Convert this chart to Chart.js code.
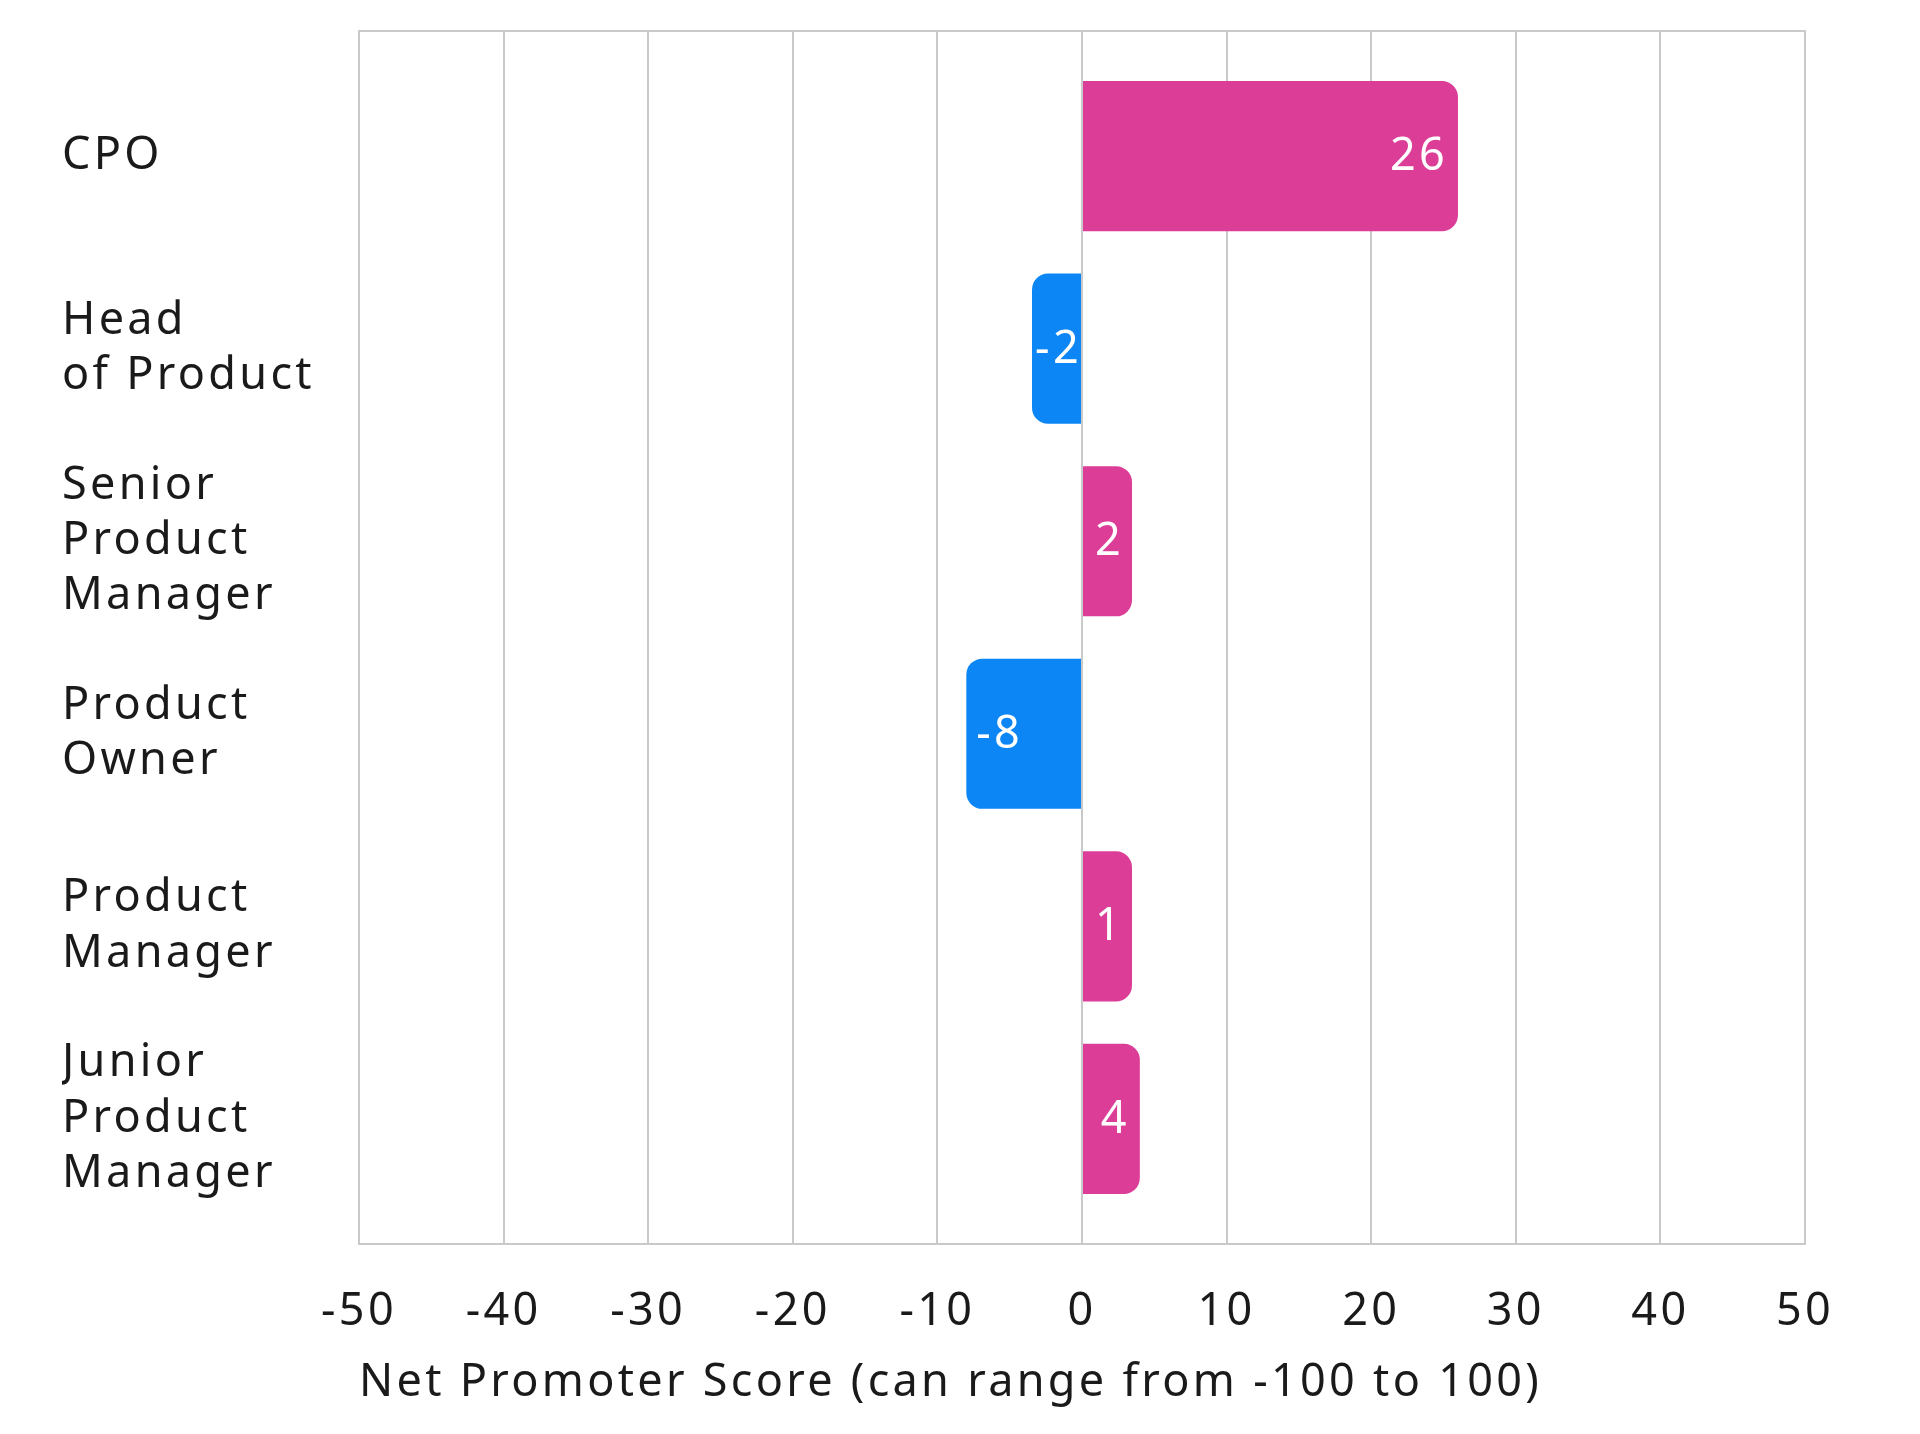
<!DOCTYPE html>
<html>
<head>
<meta charset="utf-8">
<script src="https://cdn.jsdelivr.net/npm/chart.js@4"></script>
<style>
  html, body { margin: 0; padding: 0; background: #fff; }
  #wrap { width: 1920px; height: 1434px; }
</style>
</head>
<body>
<div id="wrap"><canvas id="npsChart"></canvas></div>
<script>
// Chart data
const roles = [
    ['CPO'],
    ['Head', 'of Product'],
    ['Senior', 'Product', 'Manager'],
    ['Product', 'Owner'],
    ['Product', 'Manager'],
    ['Junior', 'Product', 'Manager']
];
const npsScores = [26, -2, 2, -8, 1, 4];
const xTicks = [-50, -40, -30, -20, -10, 0, 10, 20, 30, 40, 50];

const PINK = '#dc3d97';
const BLUE = '#0b86f4';
const GRID = '#c9c9c9';
const TEXT = '#1a1a1a';
const FONT = 'Noto Sans';
const SPACING = '3.3px';

// wider letter spacing, like the original typeface
const letterSpacing = {
    id: 'letterSpacing',
    beforeUpdate(chart) { chart.ctx.letterSpacing = SPACING; },
    beforeDraw(chart) { chart.ctx.letterSpacing = SPACING; }
};

// white value labels inside the end of each bar
const valueLabels = {
    id: 'valueLabels',
    afterDatasetsDraw(chart) {
        const ctx = chart.ctx;
        const meta = chart.getDatasetMeta(0);
        ctx.save();
        ctx.letterSpacing = SPACING;
        ctx.font = `45px "${FONT}"`;
        ctx.fillStyle = '#fff';
        ctx.textBaseline = 'middle';
        meta.data.forEach((bar, i) => {
            const v = npsScores[i];
            const txt = String(v);
            const w = ctx.measureText(txt).width;
            const len = Math.abs(bar.x - bar.base);
            let x;
            if (w + 24 > len) {
                ctx.textAlign = 'center';
                x = (bar.x + bar.base) / 2 + 2;
            } else if (v >= 0) {
                ctx.textAlign = 'right';
                x = bar.x - 10;
            } else {
                ctx.textAlign = 'left';
                x = bar.x + 10;
            }
            ctx.fillText(txt, x, bar.y + 1);
        });
        ctx.restore();
    }
};

const ctx = document.getElementById('npsChart').getContext('2d');
new Chart(ctx, {
    type: 'bar',
    data: {
        datasets: [{
            data: npsScores.map((v, i) => ({ x: v, y: i })),
            backgroundColor: npsScores.map(v => v < 0 ? BLUE : PINK),
            borderRadius: 16,
            borderSkipped: 'start',
            minBarLength: 50,
            barPercentage: 0.78,
            categoryPercentage: 1.0
        }]
    },
    options: {
        indexAxis: 'y',
        responsive: true,
        maintainAspectRatio: false,
        animation: false,
        layout: { padding: { left: 62, right: 115, top: 31, bottom: 0 } },
        plugins: {
            legend: { display: false },
            tooltip: { enabled: false }
        },
        scales: {
            x: {
                type: 'linear',
                min: -50,
                max: 50,
                afterBuildTicks: scale => { scale.ticks = xTicks.map(v => ({ value: v })); },
                afterFit: scale => { scale.height = 190; },
                grid: { color: GRID, lineWidth: 2, drawTicks: false },
                border: { color: GRID, width: 2 },
                ticks: {
                    color: TEXT,
                    padding: 41,
                    font: { family: FONT, size: 45 }
                },
                title: {
                    display: true,
                    text: 'Net Promoter Score (can range from -100 to 100)',
                    align: 'start',
                    color: TEXT,
                    font: { family: FONT, size: 45 },
                    padding: { top: 0, bottom: 24 }
                }
            },
            xTop: {
                type: 'linear',
                position: 'top',
                min: -50,
                max: 50,
                grid: { display: false, drawTicks: false },
                border: { color: GRID, width: 2 },
                ticks: { display: false }
            },
            y: {
                type: 'linear',
                reverse: true,
                offset: false,
                min: -0.65,
                max: 5.65,
                afterBuildTicks: scale => { scale.ticks = roles.map((_, i) => ({ value: i })); },
                afterFit: scale => {
                    scale.width = 297;
                    scale.paddingTop = 0;
                    scale.paddingBottom = 0;
                },
                grid: { display: false, drawTicks: false },
                border: { color: GRID, width: 2 },
                ticks: {
                    autoSkip: false,
                    crossAlign: 'far',
                    color: TEXT,
                    font: { family: FONT, size: 45, lineHeight: 1.23 },
                    callback: v => roles[v]
                }
            }
        }
    },
    plugins: [letterSpacing, valueLabels]
});
</script>
</body>
</html>
